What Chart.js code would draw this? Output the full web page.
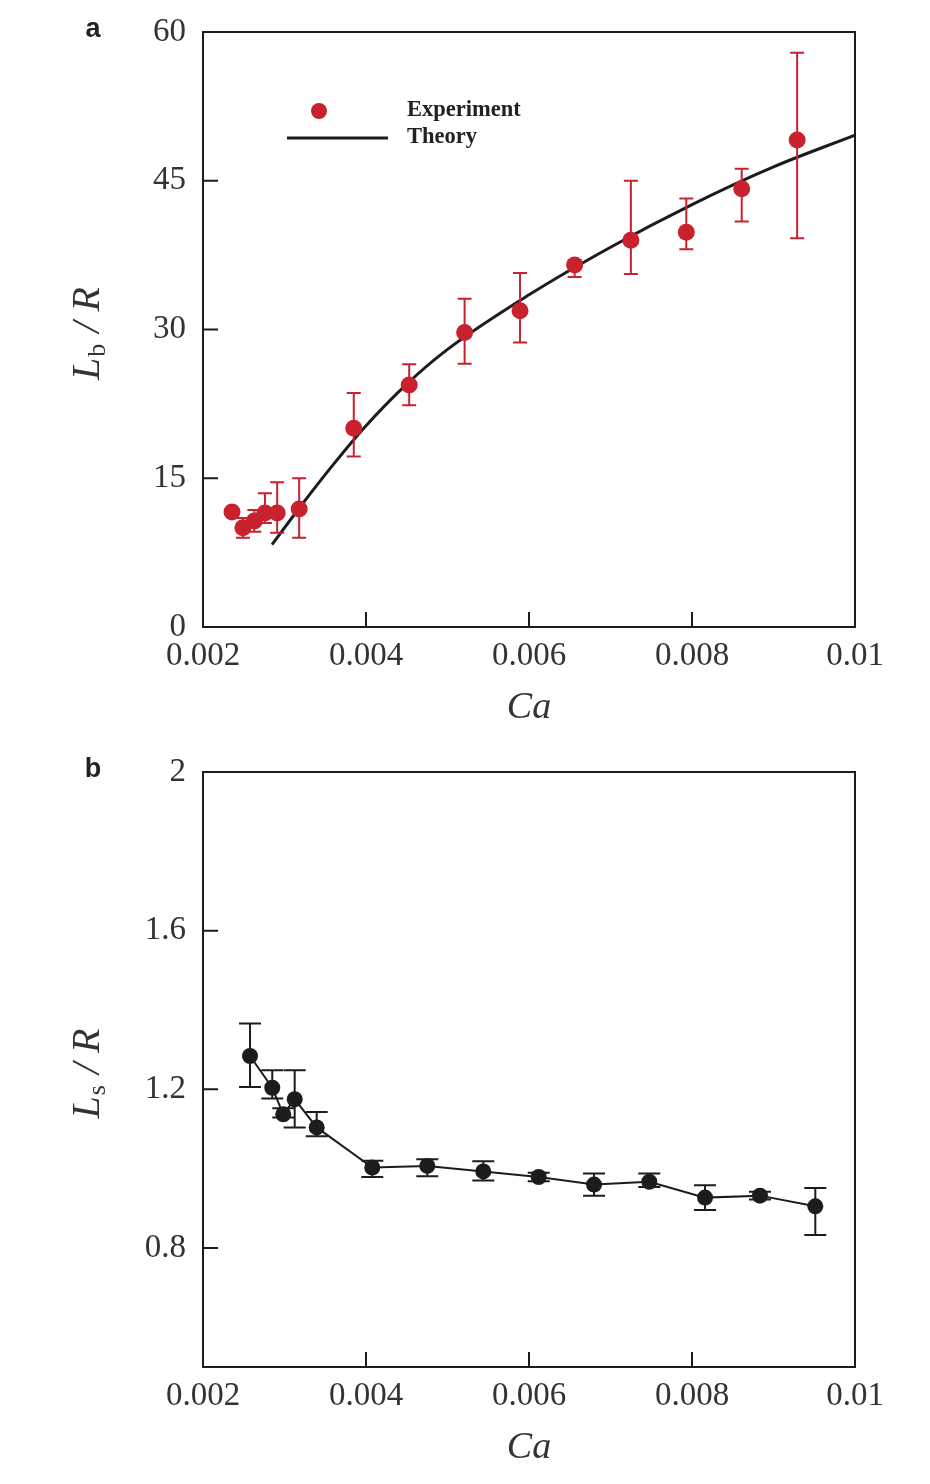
<!DOCTYPE html>
<html>
<head>
<meta charset="utf-8">
<script src="https://cdn.jsdelivr.net/npm/chart.js@4.4.1/dist/chart.umd.min.js"></script>
<style>
  body { margin: 0; background: #fff; }
  canvas { display: block; }
</style>
</head>
<body>
<canvas id="chartA" width="930" height="740"></canvas>
<canvas id="chartB" width="930" height="744"></canvas>
<script>
// Panel a: bubble length vs capillary number
const caA = [0.002356, 0.00249, 0.00263, 0.00276, 0.00291, 0.00318, 0.00385, 0.00453, 0.00521, 0.00589, 0.00656, 0.00725, 0.00793, 0.00861, 0.00929];
const lbA = [11.6, 10.0, 10.7, 11.5, 11.5, 11.9, 20.05, 24.4, 29.7, 31.9, 36.5, 39.0, 39.8, 44.2, 49.1];
const lbLow = [11.6, 9.0, 9.6, 10.5, 9.5, 9.0, 17.2, 22.35, 26.55, 28.7, 35.3, 35.6, 38.1, 40.9, 39.2];
const lbHigh = [11.6, 11.0, 11.8, 13.5, 14.6, 15.0, 23.6, 26.5, 33.1, 35.7, 37.0, 45.0, 43.2, 46.2, 57.9];

const caTheory = [0.002847, 0.0032, 0.0036, 0.004, 0.0045, 0.005, 0.006, 0.007, 0.008, 0.009, 0.01];
const lbTheory = [8.3, 12.2, 16.4, 20.3, 24.5, 28.0, 33.5, 38.3, 42.6, 46.4, 49.6];

// Panel b: slug length vs capillary number
const caB = [0.002577, 0.00285, 0.002985, 0.003125, 0.003395, 0.004077, 0.004752, 0.005439, 0.006119, 0.006798, 0.007476, 0.00816, 0.008834, 0.009513];
const lsB = [1.284, 1.204, 1.137, 1.175, 1.104, 1.003, 1.007, 0.993, 0.979, 0.960, 0.967, 0.927, 0.932, 0.905];
const lsLow = [1.206, 1.177, 1.129, 1.104, 1.082, 0.979, 0.981, 0.970, 0.968, 0.932, 0.954, 0.896, 0.922, 0.833];
const lsHigh = [1.366, 1.248, 1.152, 1.248, 1.143, 1.020, 1.024, 1.019, 0.990, 0.988, 0.988, 0.958, 0.942, 0.951];

const caTicks = [0.002, 0.004, 0.006, 0.008, 0.01];
const lbTicks = [0, 15, 30, 45, 60];
const lsTicks = [0.8, 1.2, 1.6, 2];

const RED = "#c8222e";
const INK = "#1c1c1c";
const TEXT = "#333";
const SERIF = "'Liberation Serif', 'DejaVu Serif', serif";

function pts(xs, ys) {
  return xs.map((x, i) => ({ x: x, y: ys[i] }));
}

// frame, inward ticks, error bars, titles
const framePlugin = {
  id: "frame",
  afterDraw(chart, args, opts) {
    const ctx = chart.ctx;
    const a = chart.chartArea;
    const xs = chart.scales.x;
    const ys = chart.scales.y;
    ctx.save();

    // error bars
    ctx.strokeStyle = opts.errColor;
    ctx.lineWidth = 2;
    opts.errX.forEach((cx, i) => {
      const px = xs.getPixelForValue(cx);
      const lo = ys.getPixelForValue(opts.errLow[i]);
      const hi = ys.getPixelForValue(opts.errHigh[i]);
      if (Math.abs(lo - hi) < 1) return;
      ctx.beginPath();
      ctx.moveTo(px, lo); ctx.lineTo(px, hi);
      ctx.moveTo(px - opts.cap, lo); ctx.lineTo(px + opts.cap, lo);
      ctx.moveTo(px - opts.cap, hi); ctx.lineTo(px + opts.cap, hi);
      ctx.stroke();
    });

    // box + inward ticks
    ctx.strokeStyle = INK;
    ctx.lineWidth = 2;
    ctx.strokeRect(a.left, a.top, a.right - a.left, a.bottom - a.top);
    ctx.beginPath();
    xs.ticks.forEach((t) => {
      const px = xs.getPixelForValue(t.value);
      ctx.moveTo(px, a.bottom); ctx.lineTo(px, a.bottom - 15);
    });
    ys.ticks.forEach((t) => {
      const py = ys.getPixelForValue(t.value);
      ctx.moveTo(a.left, py); ctx.lineTo(a.left + 15, py);
    });
    ctx.stroke();

    // axis titles
    ctx.fillStyle = TEXT;
    ctx.textBaseline = "middle";
    ctx.textAlign = "center";
    ctx.font = "italic 38px " + SERIF;
    ctx.fillText("Ca", (a.left + a.right) / 2, a.bottom + 81);

    ctx.translate(88, (a.top + a.bottom) / 2 + 5);
    ctx.rotate(-Math.PI / 2);
    ctx.textAlign = "left";
    ctx.font = "italic 40px " + SERIF;
    const w1 = ctx.measureText("L").width;
    ctx.font = "26px " + SERIF;
    const w2 = ctx.measureText(opts.sub).width;
    ctx.font = "italic 40px " + SERIF;
    const w3 = ctx.measureText(" / R").width;
    let x0 = -(w1 + w2 + w3) / 2;
    ctx.fillText("L", x0, 0);
    ctx.font = "26px " + SERIF;
    ctx.fillText(opts.sub, x0 + w1 + 1, 10);
    ctx.font = "italic 40px " + SERIF;
    ctx.fillText(" / R", x0 + w1 + w2 + 2, 0);
    ctx.setTransform(1, 0, 0, 1, 0, 0);

    // panel letter
    ctx.font = "bold 27px 'Liberation Sans', Arial, sans-serif";
    ctx.fillStyle = "#222";
    ctx.textAlign = "center";
    ctx.fillText(opts.letter, 93, a.top - 2);

    // legend (panel a)
    if (opts.legend) {
      ctx.fillStyle = RED;
      ctx.beginPath();
      ctx.arc(319, 111, 8, 0, Math.PI * 2);
      ctx.fill();
      ctx.strokeStyle = INK;
      ctx.lineWidth = 3;
      ctx.beginPath();
      ctx.moveTo(287, 138); ctx.lineTo(388, 138);
      ctx.stroke();
      ctx.fillStyle = "#222";
      ctx.textAlign = "left";
      ctx.font = "bold 22.5px " + SERIF;
      ctx.fillText(chart.data.datasets[0].label, 407, 110);
      ctx.fillText(chart.data.datasets[1].label, 407, 137);
    }
    ctx.restore();
  },
};

function axes(yMin, yMax, yTicks) {
  return {
    x: {
      type: "linear",
      min: 0.002,
      max: 0.01,
      afterFit: (s) => {
        s.height = 113;
        s.paddingLeft = 0;
        s.paddingRight = 0;
      },
      afterBuildTicks: (s) => { s.ticks = caTicks.map((v) => ({ value: v })); },
      grid: { display: false, drawTicks: false },
      border: { display: false },
      ticks: {
        padding: 10,
        color: TEXT,
        font: { family: SERIF, size: 33 },
        callback: (v) => String(Number(v.toFixed(3))),
      },
    },
    y: {
      type: "linear",
      min: yMin,
      max: yMax,
      afterFit: (s) => {
        s.width = 203;
        s.paddingTop = 0;
        s.paddingBottom = 0;
      },
      afterBuildTicks: (s) => { s.ticks = yTicks.map((v) => ({ value: v })); },
      grid: { display: false, drawTicks: false },
      border: { display: false },
      ticks: {
        padding: 17,
        color: TEXT,
        font: { family: SERIF, size: 33 },
        callback: (v) => String(v),
      },
    },
  };
}

function drawPanelA() {
  new Chart(document.getElementById("chartA"), {
    type: "scatter",
    data: {
      datasets: [
        {
          label: "Experiment",
          data: pts(caA, lbA),
          backgroundColor: RED,
          borderColor: RED,
          pointRadius: 8.5,
          pointBorderWidth: 0,
          order: 1,
        },
        {
          label: "Theory",
          type: "line",
          data: pts(caTheory, lbTheory),
          borderColor: INK,
          borderWidth: 3,
          pointRadius: 0,
          cubicInterpolationMode: "monotone",
          fill: false,
          order: 2,
        },
      ],
    },
    options: {
      responsive: false,
      animation: false,
      layout: { padding: { left: 0, right: 75, top: 32, bottom: 0 } },
      plugins: {
        legend: { display: false },
        tooltip: { enabled: false },
        frame: { errX: caA, errLow: lbLow, errHigh: lbHigh, errColor: RED, cap: 7, sub: "b", letter: "a", legend: true },
      },
      scales: axes(0, 60, lbTicks),
    },
    plugins: [framePlugin],
  });
}

function drawPanelB() {
  new Chart(document.getElementById("chartB"), {
    type: "line",
    data: {
      datasets: [
        {
          label: "Experiment",
          data: pts(caB, lsB),
          borderColor: INK,
          borderWidth: 2,
          backgroundColor: INK,
          pointRadius: 8,
          pointBorderWidth: 0,
          tension: 0,
          fill: false,
        },
      ],
    },
    options: {
      responsive: false,
      animation: false,
      layout: { padding: { left: 0, right: 75, top: 32, bottom: 4 } },
      plugins: {
        legend: { display: false },
        tooltip: { enabled: false },
        frame: { errX: caB, errLow: lsLow, errHigh: lsHigh, errColor: INK, cap: 11, sub: "s", letter: "b", legend: false },
      },
      scales: axes(0.5, 2, lsTicks),
    },
    plugins: [framePlugin],
  });
}

drawPanelA();
drawPanelB();
</script>
</body>
</html>
